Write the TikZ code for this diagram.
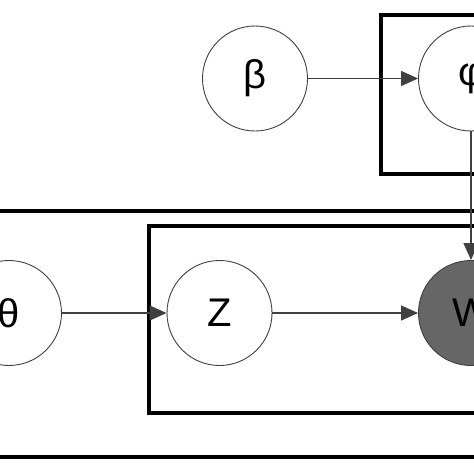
\documentclass[tikz,border=0pt]{standalone}
\usepackage{fontspec}
\setmainfont{Liberation Sans}
\usetikzlibrary{arrows.meta}
\begin{document}
\begin{tikzpicture}[x=1pt,y=-1pt,
  var/.style={circle,draw=black!75,line width=0.9pt,minimum size=105pt,inner sep=0pt,fill=white,font=\fontsize{40}{40}\selectfont},
  obs/.style={var,fill=black!60},
  edge/.style={draw=black!75,line width=1.2pt,-{Triangle[length=17pt,width=15pt]}},
  plate/.style={draw=black,line width=3.6pt}]
\useasboundingbox (0,0) rectangle (474,474);
\fill[white] (0,0) rectangle (474,474);
\clip (0,0) rectangle (474,474);
\draw[plate] (381,15) rectangle (520,174);
\draw[plate] (-40,211) rectangle (520,457);
\draw[plate] (149,226) rectangle (510,413);
\node[var] (beta) at (255,78.5) {β};
\node[var] (phi) at (471,78.5) {φ};
\node[var] (theta) at (9,313) {θ};
\node[var] (z) at (219.5,313) {Z};
\node[obs] (w) at (471,313) {W};
\draw[edge] (beta) -- (phi);
\draw[edge] (phi) -- (w);
\draw[edge] (theta) -- (z);
\draw[edge] (z) -- (w);
\end{tikzpicture}
\end{document}
